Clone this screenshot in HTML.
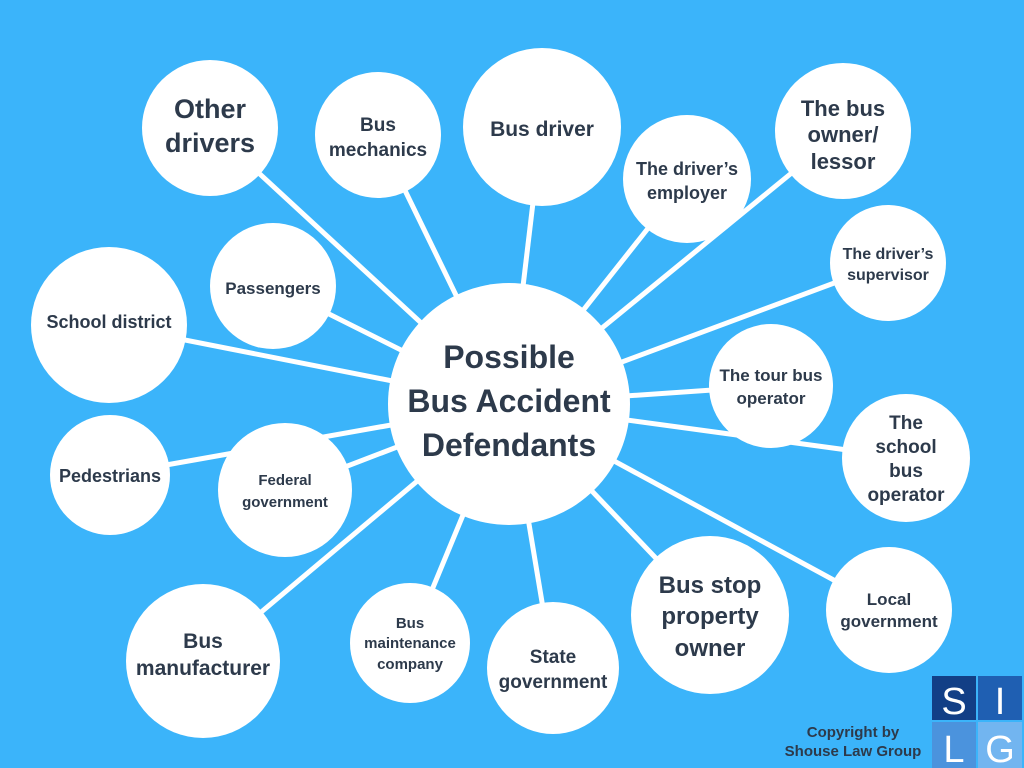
<!DOCTYPE html>
<html><head><meta charset="utf-8"><style>
html,body{margin:0;padding:0;background:#3bb4fa;}
svg{display:block;}
text{font-family:"Liberation Sans",sans-serif;font-weight:bold;fill:#2d3a4b;text-anchor:middle;}
</style></head><body>
<svg width="1024" height="768" viewBox="0 0 1024 768">
<rect width="1024" height="768" fill="#3bb4fa"/>
<g stroke="#fff" stroke-width="5">
<line x1="509" y1="404" x2="210" y2="128"/>
<line x1="509" y1="404" x2="378" y2="135"/>
<line x1="509" y1="404" x2="542" y2="127"/>
<line x1="509" y1="404" x2="687" y2="179"/>
<line x1="509" y1="404" x2="843" y2="131"/>
<line x1="509" y1="404" x2="888" y2="263"/>
<line x1="509" y1="404" x2="273" y2="286"/>
<line x1="509" y1="404" x2="109" y2="325"/>
<line x1="509" y1="404" x2="771" y2="386"/>
<line x1="509" y1="404" x2="906" y2="458"/>
<line x1="509" y1="404" x2="110" y2="475"/>
<line x1="509" y1="404" x2="285" y2="490"/>
<line x1="509" y1="404" x2="203" y2="661"/>
<line x1="509" y1="404" x2="410" y2="643"/>
<line x1="509" y1="404" x2="553" y2="668"/>
<line x1="509" y1="404" x2="710" y2="615"/>
<line x1="509" y1="404" x2="889" y2="610"/>
</g>
<g fill="#fff">
<circle cx="509" cy="404" r="121"/>
<circle cx="210" cy="128" r="68"/>
<circle cx="378" cy="135" r="63"/>
<circle cx="542" cy="127" r="79"/>
<circle cx="687" cy="179" r="64"/>
<circle cx="843" cy="131" r="68"/>
<circle cx="888" cy="263" r="58"/>
<circle cx="273" cy="286" r="63"/>
<circle cx="109" cy="325" r="78"/>
<circle cx="771" cy="386" r="62"/>
<circle cx="906" cy="458" r="64"/>
<circle cx="110" cy="475" r="60"/>
<circle cx="285" cy="490" r="67"/>
<circle cx="203" cy="661" r="77"/>
<circle cx="410" cy="643" r="60"/>
<circle cx="553" cy="668" r="66"/>
<circle cx="710" cy="615" r="79"/>
<circle cx="889" cy="610" r="63"/>
</g>
<text x="509" y="368" font-size="32">Possible</text>
<text x="509" y="412" font-size="32">Bus Accident</text>
<text x="509" y="456" font-size="32">Defendants</text>
<text x="210" y="118" font-size="27">Other</text>
<text x="210" y="152" font-size="27">drivers</text>
<text x="378" y="131" font-size="19">Bus</text>
<text x="378" y="156" font-size="19">mechanics</text>
<text x="542" y="136" font-size="21">Bus driver</text>
<text x="687" y="175" font-size="18">The driver’s</text>
<text x="687" y="199" font-size="18">employer</text>
<text x="843" y="116" font-size="22">The bus</text>
<text x="843" y="142" font-size="22">owner/</text>
<text x="843" y="169" font-size="22">lessor</text>
<text x="888" y="259" font-size="16">The driver’s</text>
<text x="888" y="280" font-size="16">supervisor</text>
<text x="273" y="294" font-size="17">Passengers</text>
<text x="109" y="328" font-size="18">School district</text>
<text x="771" y="381" font-size="17">The tour bus</text>
<text x="771" y="404" font-size="17">operator</text>
<text x="906" y="429" font-size="19">The</text>
<text x="906" y="453" font-size="19">school</text>
<text x="906" y="477" font-size="19">bus</text>
<text x="906" y="501" font-size="19">operator</text>
<text x="110" y="482" font-size="18">Pedestrians</text>
<text x="285" y="485" font-size="15">Federal</text>
<text x="285" y="507" font-size="15">government</text>
<text x="203" y="648" font-size="21">Bus</text>
<text x="203" y="675" font-size="21">manufacturer</text>
<text x="410" y="628" font-size="15">Bus</text>
<text x="410" y="648" font-size="15">maintenance</text>
<text x="410" y="669" font-size="15">company</text>
<text x="553" y="663" font-size="19">State</text>
<text x="553" y="688" font-size="19">government</text>
<text x="710" y="593" font-size="24">Bus stop</text>
<text x="710" y="624" font-size="24">property</text>
<text x="710" y="656" font-size="24">owner</text>
<text x="889" y="605" font-size="17">Local</text>
<text x="889" y="627" font-size="17">government</text>
<text x="853" y="737" font-size="15">Copyright by</text>
<text x="853" y="756" font-size="15">Shouse Law Group</text>
<rect x="932" y="676" width="44" height="44" fill="#123f86"/>
<rect x="978" y="676" width="44" height="44" fill="#1f5fb2"/>
<rect x="932" y="722" width="44" height="46" fill="#4b93dd"/>
<rect x="978" y="722" width="44" height="46" fill="#72b5f0"/>
<g style="font-weight:normal">
<text x="954" y="714" font-size="38" style="fill:#fff;font-weight:normal">S</text>
<text x="1000" y="714" font-size="38" style="fill:#fff;font-weight:normal">I</text>
<text x="954" y="762" font-size="38" style="fill:#fff;font-weight:normal">L</text>
<text x="1000" y="762" font-size="38" style="fill:#fff;font-weight:normal">G</text>
</g>
</svg>
</body></html>
